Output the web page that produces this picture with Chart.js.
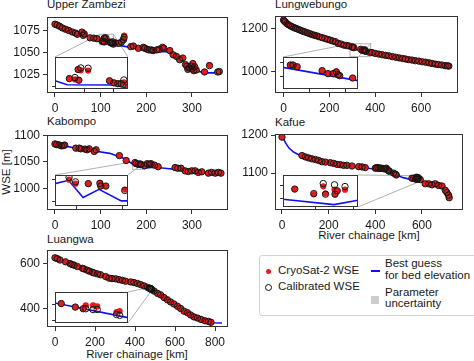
<!DOCTYPE html>
<html><head><meta charset="utf-8">
<script src="https://cdn.jsdelivr.net/npm/chart.js@4.4.1/dist/chart.umd.min.js"></script>
<style>
html,body{margin:0;padding:0;background:#fff;}
body{width:474px;height:361px;position:relative;overflow:hidden;font-family:"Liberation Sans",Arial,sans-serif;color:#1a1a1a;}
canvas{position:absolute;}
.t{position:absolute;font-size:11.5px;line-height:1;white-space:nowrap;transform:translateY(-50%);}
.c{transform:translate(-50%,-50%);}
</style></head><body>
<div class="t" style="left:47px;top:5px">Upper Zambezi</div>
<div class="t" style="left:275px;top:5px">Lungwebungo</div>
<div class="t" style="left:47px;top:122px">Kabompo</div>
<div class="t" style="left:275px;top:123px">Kafue</div>
<div class="t" style="left:47px;top:240px">Luangwa</div>
<div class="t c" style="left:369px;top:236px">River chainage [km]</div>
<div class="t c" style="left:137px;top:355px">River chainage [km]</div>
<div class="t" style="left:7px;top:172px;transform:translate(-50%,-50%) rotate(-90deg)">WSE [m]</div>

<div style="position:absolute;left:259px;top:255px;width:240px;height:59px;border:1px solid #d2d2d2;border-radius:3px"></div>
<div style="position:absolute;left:265.5px;top:268.5px;width:5px;height:5px;border-radius:50%;background:#e41a1c"></div>
<div style="position:absolute;left:264.5px;top:283.5px;width:5px;height:5px;border-radius:50%;border:1.3px solid #111"></div>
<div class="t" style="left:278px;top:271px">CryoSat-2 WSE</div>
<div class="t" style="left:278px;top:287px">Calibrated WSE</div>
<div style="position:absolute;left:371px;top:270px;width:9px;height:2px;background:#0f0ff0"></div>
<div class="t" style="left:385px;top:264px">Best guess</div>
<div class="t" style="left:385px;top:276px">for bed elevation</div>
<div style="position:absolute;left:371px;top:296px;width:8px;height:8px;background:#cdcdcd"></div>
<div class="t" style="left:385px;top:293px">Parameter</div>
<div class="t" style="left:385px;top:304px">uncertainty</div>

<script>
// ---------- Upper Zambezi ----------
const uzKm = [0,5,10,16,23,30,38,45,49,59,
  62,64,77,85,92,103.9,106.2,107.5,107.8,108.6,
  111.6,120.4,122.2,123.8,125.2,126.3,128,132,139,146,
  150,151.5,166,171.7,182.6,193.5,197,202,206.5,211.6,
  215,222.5,228,235.4,238.5,251.5,258.7,265.9,273,280,
  286,289,291,293.5,298.5,300,302,304,306,309.4,
  327.6,338.4,356.5,360];
const uzCryo = [1082.5,1081.5,1080.2,1078.3,1076.8,1075.4,1073.6,1072.4,1071,1073.5,
  1069.8,1071.5,1067,1066.6,1066,1062.9,1062.6,1066.3,1062.3,1066,
  1065.9,1062.1,1061.3,1061,1061,1061.5,1059.8,1061.3,1060.6,1062.4,
  1064.9,1069.4,1056.9,1057.6,1055,1056.1,1055,1053.9,1053.1,1053.1,
  1052.4,1053.1,1053.9,1056.1,1055,1052.4,1047.6,1045.8,1042,1043.9,
  1036.4,1034.6,1031,1032.8,1034.6,1031.5,1037.6,1029.5,1033.9,1030.2,
  1028,1035.9,1028,1028.5];
const uzCal = [1082.5,1081.5,1080.2,1078.3,1076.8,1075.4,1073.6,1072.4,1071,1073.5,
  1069.8,1071.5,1067,1066.6,1066,1062.9,1063.3,1066.3,1062.3,1066.9,
  1066.8,1062.1,1061.3,1061,1061,1062.4,1059.8,1061.3,1060.6,1062.4,
  1064.9,1067.5,1056.9,1057.6,1055,1056.1,1055,1053.9,1053.1,1053.1,
  1052.4,1053.1,1053.9,1056.1,1055,1052.4,1047.6,1045.8,1042,1043.9,
  1036.4,1034.6,1031,1032.8,1034.6,1031.5,1037.6,1029.5,1033.9,1030.2,
  1028,1035.2,1028,1028.5];
const uzBedKm = [0,20,50,78,98,103,122,128,150,175,200,225,240,255,265,280,295,310,330,362];
const uzBed = [1082,1077,1071,1068,1062.1,1060.6,1060.5,1059.3,1057.5,1055,1052,1050.5,1051.5,1050,1046,1040,1033,1029,1027,1027];
const uzXTicks = [0,100,200,300], uzYTicks = [1025,1050,1075];
const uzInsetXTicks = [110,122], uzInsetYTicks = [1060];

// ---------- Lungwebungo ----------
const lwKm = [0,4,8,15,22,30,37,45,52,59,
  68,77,86,95,105,115,125,135,145,155,
  168,180,192,204,215,226,238,250,263,275,
  285,298.8,302,307,337,344,350,354,356,358,
  373.6,386,400,415,430,445,459,475,490,505,
  520,532,545,560,575,590,605,620,635,648,
  662,675,690,705,715,721];
const lwCryo = [1241,1236,1232,1224,1219,1214,1210,1206,1203,1200,
  1196,1192,1188,1185,1181,1177,1173,1170,1167,1163,
  1159,1155,1151,1147,1143,1140,1132,1129,1124,1122,
  1120,1115,1115,1111.3,1104.4,1098.8,1098.8,1103,1096.9,1095,
  1090.6,1089,1085,1082,1079,1076,1074,1070,1067,1064,
  1061,1059,1056,1054,1051,1049,1046,1044,1041,1038,
  1035,1033,1031,1028,1027,1026];
const lwCal = [1241,1236,1232,1224,1219,1214,1210,1206,1203,1200,
  1196,1192,1188,1185,1181,1177,1173,1170,1167,1163,
  1159,1155,1151,1147,1143,1140,1132,1129,1124,1122,
  1120,1115,1115,1111.8,1104.4,1098.8,1098.8,1102,1096.9,1095,
  1090.6,1089,1085,1082,1079,1076,1074,1070,1067,1064,
  1061,1059,1056,1054,1051,1049,1046,1044,1041,1038,
  1035,1033,1031,1028,1027,1026];
const lwBedKm = [0,20,60,100,170,230,290,380,460,530,600,660,725];
const lwBed = [1238,1220,1198,1182,1157,1137,1110.6,1085.6,1070,1056,1045,1035,1024];
const lwXTicks = [0,200,400,600], lwYTicks = [1000,1200];
const lwInsetXTicks = [322,365], lwInsetYTicks = [1094,1120];

// ---------- Kabompo ----------
const kbKm = [0,3.7,8.8,14,18.4,21.3,45.6,53,56.6,65.5,
  70,75,86,90,141,156,175.2,177.6,182.3,186.6,
  186.9,188.8,195.8,202,207,210.5,218,226,263,269,
  276,285,292,299.5,307,314,321.6,336,343,351,
  358,363.6];
const kbCryo = [1083.6,1082.4,1081.8,1080,1080.6,1081.5,1075.8,1075.8,1074.5,1074,
  1072.7,1074.5,1069.7,1072.7,1061.8,1052.7,1047.9,1046.1,1046.1,1046.5,
  1045,1045,1043.4,1046.7,1045.5,1046.7,1044,1041,1039.4,1038.2,
  1038.2,1033.3,1032.1,1033.3,1033.3,1030.3,1031.5,1029,1030.3,1029,
  1030.3,1029];
const kbCal = [1083.6,1082.4,1081.8,1080,1080.6,1081.5,1075.8,1075.8,1074.5,1074,
  1072.7,1074.5,1069.7,1072.7,1061.8,1052.7,1048.9,1046.9,1046.1,1046.2,
  1045,1045,1043,1046.7,1045.5,1046.7,1044,1041,1039.4,1038.2,
  1038.2,1033.3,1032.1,1033.3,1033.3,1030.3,1031.5,1029,1030.3,1029,
  1030.3,1029];
const kbBedKm = [0,20,50,90,120,150,170,175,180.4,186.3,194.5,197,215,240,265,300,330,365];
const kbBed = [1083,1080,1075,1070,1066,1057,1046.1,1047.6,1039.8,1043.5,1038.3,1038.3,1040,1038,1036,1032,1030,1028];
const kbXTicks = [0,100,200,300], kbYTicks = [1000,1050,1100];
const kbInsetXTicks = [178,195], kbInsetYTicks = [1038,1048];

// ---------- Kafue ----------
const kfKm = [0,85.7,100,114,128.6,143,157,171,186,207,
  221.5,236,250,264,278.6,300,328.6,343,357,400,
  405,411,415,421,425,436,440,447,452,457,
  460,478,486,490,557,564.7,572.3,576.1,577,580.6,
  580.8,581.7,584.8,593,614,629,643,657,671,686,
  700,707,714,717];
const kfCryo = [1195,1146.2,1142.7,1140,1137.6,1135.9,1133.3,1130,1129,1127.4,
  1125.6,1123,1122.2,1120.5,1120.5,1118.7,1117,1116.2,1114.6,1113,
  1114,1114.6,1112,1113,1113,1112,1111,1113,1109,1106,
  1105,1100,1097.4,1095,1086.4,1086.4,1084,1087.7,1084.3,1086.1,
  1084,1085.6,1086.1,1082.9,1071.8,1071.8,1069.2,1071.8,1067.5,1065.9,
  1054.7,1048.7,1041.9,1035];
const kfCal = [1195,1146.2,1142.7,1140,1137.6,1135.9,1133.3,1130,1129,1127.4,
  1125.6,1123,1122.2,1120.5,1120.5,1118.7,1117,1116.2,1114.6,1113,
  1114,1114.6,1112,1113,1113,1112,1111,1113,1109,1106,
  1105,1100,1097.4,1095,1086.4,1086.4,1084.3,1089,1084,1088.4,
  1084,1085.6,1087.6,1082.9,1071.8,1071.8,1069.2,1071.8,1067.5,1065.9,
  1054.7,1048.7,1041.9,1035];
const kfBedKm = [0,8,16,30,51,87,150,250,350,450,490,520,560,580.4,590,610,650,685,700,718];
const kfBed = [1196,1188,1179,1166,1155,1144,1133,1121,1114,1107,1095,1088,1081.6,1079.1,1081.2,1072,1068,1064,1052,1033];
const kfXTicks = [0,200,400,600], kfYTicks = [1100,1200];
const kfInsetXTicks = [573,588], kfInsetYTicks = [1082,1088];

// ---------- Luangwa ----------
const lgKm = [0,11.7,25,53,75,85,95,112,137,145,
  160,172,187,195,212,228,253,270,285,303,
  320,337,353,378,395,412,428,445,462,471.2,
  473.9,475.4,475.9,477.3,478.1,481.8,482.4,495,512,528,
  545,562,578,595,612,628,645,662,678,695,
  712,730,750,767,780];
const lgCryo = [627,623,617,609,601,597,594,588,580,577,
  572,567,562,559,555,551,543,536,534,533,
  529,526,522,519,516,512,507,501,495,491.4,
  489.7,488.9,490.6,490.6,490,487.3,487.8,478,468,461,
  449,439,429,420,410,400,388,381,371,362,
  357,351,345,342,338];
const lgCal = [627,623,617,609,601,597,594,588,580,577,
  572,567,562,559,555,551,543,536,534,533,
  529,526,522,519,516,512,507,501,495,491.4,
  489.7,488.9,488.9,488.5,488.5,486.1,485.7,478,468,461,
  449,439,429,420,410,400,388,381,371,362,
  357,351,345,342,338];
const lgBedKm = [0,50,100,150,200,250,300,350,400,440,470,484,500,550,600,650,700,750,790,835];
const lgBed = [626,609,592,575,559,543,532,522,514,502,491.7,484.6,476,447,418,387,360,344,336,335];
const lgXTicks = [0,200,400,600,800], lgYTicks = [400,600];
const lgInsetXTicks = [], lgInsetYTicks = [483,491];

// ---------- styling / layout ----------
const FONT = '"Liberation Sans", Arial, sans-serif';
const RED = '#e41a1c', BLUE = '#0f0ff0', AX = '#333333', TXT = '#1a1a1a', CONN = '#b0b0b0';
const PADL = 45, PADR = 6, PADT = 8, PADB = 26, IPAD = 6, IPADT = 2, IPADR = 2;

const panels = [
  {box:[47,15,228,93], xr:[-17.5,379], yr:[1004,1090.5], xt:uzXTicks, yt:uzYTicks,
   km:uzKm, cryo:uzCryo, cal:uzCal, bedKm:uzBedKm, bed:uzBed,
   inset:{box:[55,57,128,89], xr:[98,128], yr:[1059,1071], xt:uzInsetXTicks, yt:uzInsetYTicks, corners:['UL','UR']}},
  {box:[275,14,458,93], xr:[-37,761], yr:[900,1259], xt:lwXTicks, yt:lwYTicks,
   km:lwKm, cryo:lwCryo, cal:lwCal, bedKm:lwBedKm, bed:lwBed,
   inset:{box:[283,57,358,89], xr:[290,380], yr:[1070,1130], xt:lwInsetXTicks, yt:lwInsetYTicks, corners:['UL','UR']}},
  {box:[47,133,228,210], xr:[-17.5,379], yr:[960,1100], xt:kbXTicks, yt:kbYTicks,
   km:kbKm, cryo:kbCryo, cal:kbCal, bedKm:kbBedKm, bed:kbBed,
   inset:{box:[55,175,128,206], xr:[170,197], yr:[1036,1050], xt:kbInsetXTicks, yt:kbInsetYTicks, corners:['UL','UR']}},
  {box:[275,132,463,210], xr:[-30,776], yr:[1002.6,1202.6], xt:kfXTicks, yt:kfYTicks,
   km:kfKm, cryo:kfCryo, cal:kfCal, bedKm:kfBedKm, bed:kfBed,
   inset:{box:[283,175,358,207], xr:[560,590], yr:[1078,1093], xt:kfInsetXTicks, yt:kfInsetYTicks, corners:['UR','LR']}},
  {box:[47,248,228,327], xr:[-40,865], yr:[317,661], xt:lgXTicks, yt:lgYTicks,
   km:lgKm, cryo:lgCryo, cal:lgCal, bedKm:lgBedKm, bed:lgBed,
   inset:{box:[55,292,128,323], xr:[470,484], yr:[482,497], xt:lgInsetXTicks, yt:lgInsetYTicks, corners:['UR','LR']}}
];

function pts(xs, ys){ return xs.map((x,i)=>({x:x, y:ys[i]})); }

function datasets(p){
  return [
    {label:'Calibrated WSE', data:pts(p.km,p.cal), showLine:false, pointRadius:3.2, pointBorderWidth:1,
     pointBorderColor:'#141414', pointBackgroundColor:'rgba(255,255,255,0)', clip:0},
    {label:'CryoSat-2 WSE', data:pts(p.km,p.cryo), showLine:false, pointRadius:3.1, pointBorderWidth:0,
     pointBorderColor:'rgba(0,0,0,0)', pointBackgroundColor:RED, clip:0},
    {label:'Best guess for bed elevation', data:pts(p.bedKm,p.bed), showLine:true, pointRadius:0,
     borderColor:BLUE, borderWidth:1.6, fill:false, tension:0, clip:0}
  ];
}

function axis(range, ticks, isX, main){
  return {
    type:'linear', min:range[0], max:range[1],
    afterBuildTicks: a => { a.ticks = ticks.map(v=>({value:v})); },
    afterFit: a => { if(isX) a.height = main?PADB:IPAD; else a.width = main?PADL:IPAD; },
    grid:{display:true, drawOnChartArea:false, drawTicks:true, tickLength: main?4:3, color:AX, lineWidth:1},
    border:{display:false},
    ticks:{display:main, autoSkip:false, maxRotation:0, minRotation:0, padding: isX?4:3, color:TXT,
           font:{family:FONT, size:12}, callback: v => String(v)}
  };
}

function framePlugin(fill, offX, offY, inset){
  return {
    id:'frame',
    beforeDraw(c){
      if(!fill) return;
      const a=c.chartArea, g=c.ctx;
      g.save(); g.fillStyle=fill; g.fillRect(a.left,a.top,a.right-a.left,a.bottom-a.top); g.restore();
    },
    beforeDatasetsDraw(c){
      if(!inset) return;
      const g=c.ctx, xs=c.scales.x, ys=c.scales.y;
      const X0=xs.getPixelForValue(inset.xr[0]), X1=xs.getPixelForValue(inset.xr[1]);
      const Y0=ys.getPixelForValue(inset.yr[0]), Y1=ys.getPixelForValue(inset.yr[1]);
      const rc={UL:[X0,Y1],UR:[X1,Y1],LL:[X0,Y0],LR:[X1,Y0]};
      const b=inset.box;
      const ic={UL:[b[0]-offX,b[1]-offY],UR:[b[2]-offX,b[1]-offY],LL:[b[0]-offX,b[3]-offY],LR:[b[2]-offX,b[3]-offY]};
      g.save(); g.strokeStyle=CONN; g.lineWidth=1;
      g.strokeRect(X0,Y1,X1-X0,Y0-Y1);
      g.beginPath();
      inset.corners.forEach(k=>{ g.moveTo(ic[k][0],ic[k][1]); g.lineTo(rc[k][0],rc[k][1]); });
      g.stroke(); g.restore();
    },
    afterDraw(c){
      const a=c.chartArea, g=c.ctx;
      g.save(); g.strokeStyle=AX; g.lineWidth=1;
      g.strokeRect(Math.round(a.left)+0.5, Math.round(a.top)+0.5, Math.round(a.right-a.left)-1, Math.round(a.bottom-a.top)-1);
      g.restore();
    }
  };
}

function makeChart(p, box, xr, yr, xt, yt, main, inset){
  const pl = main?PADL:IPAD, pr = main?PADR:IPADR, pt = main?PADT:IPADT, pb = main?PADB:IPAD;
  const offX = box[0]-pl, offY = box[1]-pt;
  const cv = document.createElement('canvas');
  cv.width = box[2]-box[0]+pl+pr; cv.height = box[3]-box[1]+pt+pb;
  cv.style.left = offX+'px'; cv.style.top = offY+'px';
  document.body.appendChild(cv);
  new Chart(cv, {
    type:'scatter',
    data:{datasets:datasets(p)},
    options:{
      responsive:false, animation:false, devicePixelRatio:1, events:[],
      layout:{autoPadding:false, padding:{left:0, top:pt, right:pr, bottom:0}},
      plugins:{legend:{display:false}, tooltip:{enabled:false}},
      scales:{x:axis(xr,xt,true,main), y:axis(yr,yt,false,main)}
    },
    plugins:[framePlugin(main?null:'#ffffff', offX, offY, inset)]
  });
}

panels.forEach(p => makeChart(p, p.box, p.xr, p.yr, p.xt, p.yt, true, p.inset));
panels.forEach(p => makeChart(p, p.inset.box, p.inset.xr, p.inset.yr, p.inset.xt, p.inset.yt, false, null));
</script>
</body></html>
